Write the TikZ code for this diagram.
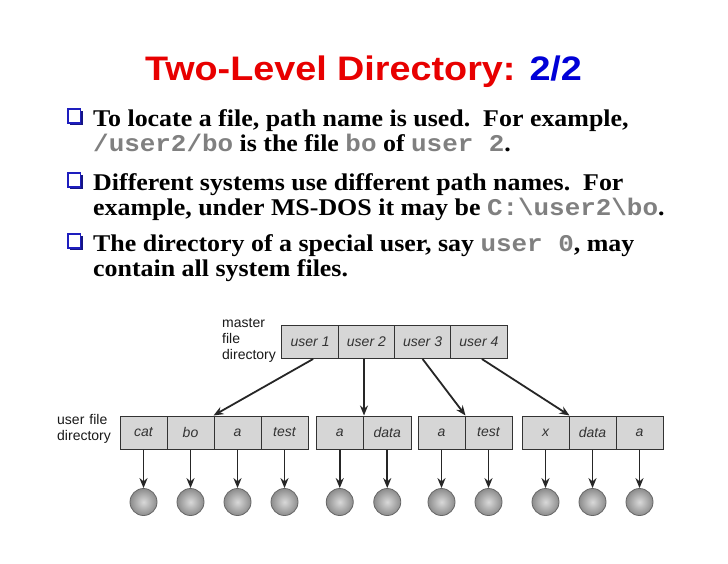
\documentclass[tikz,border=0pt]{standalone}
\usepackage{fontspec}
\setmainfont{Liberation Serif}
\setsansfont{Liberation Sans}
\setmonofont{Liberation Mono}
\newfontfamily\titlefont[FakeStretch=1.11]{Liberation Sans}
\newfontfamily\bodyfont[FakeStretch=1.08]{Liberation Serif}
\newfontfamily\codefont[FakeStretch=1.08]{Liberation Mono}
\usetikzlibrary{arrows.meta}
\definecolor{titlered}{RGB}{232,0,0}
\definecolor{titleblue}{RGB}{0,0,215}
\definecolor{codegray}{RGB}{128,128,128}
\definecolor{boxfill}{RGB}{214,214,214}
\definecolor{bulletblue}{RGB}{30,30,190}
\newcommand{\cd}[1]{{\codefont\bfseries\color{codegray}#1}}
\tikzset{
  dirbox/.style={draw=black!80, fill=boxfill, line width=1pt, minimum height=33pt, inner sep=0pt,
    font=\sffamily\itshape\fontsize{14}{14}\selectfont, text=black!80},
  filedot/.style={circle, minimum size=27pt, inner sep=0pt, draw=black!60, line width=0.8pt,
    shading=radial, inner color=black!15, outer color=black!45},
  link/.style={line width=1.8pt, draw=black!85, -{Stealth[length=10pt,width=8pt]}},
  txtline/.style={anchor=base west, inner sep=0pt, font=\bodyfont\bfseries\fontsize{24}{24}\selectfont},
  dirlabel/.style={anchor=north west, align=left, inner sep=0pt, font=\sffamily\fontsize{14}{16}\selectfont, text=black!90}
}
\begin{document}
\begin{tikzpicture}[x=1pt,y=-1pt]
\useasboundingbox[fill=white] (0,0) rectangle (728,563);
% title
\node[anchor=base, inner sep=0pt, font=\titlefont\bfseries\fontsize{34}{34}\selectfont] (title) at (363.5,80)
  {\color{titlered}Two-Level Directory: \color{titleblue}2/2};
% bullets
\foreach \b in {126,190,251}{
  \fill[bulletblue!70!black] (70,\b-15) rectangle (82.5,\b-1);
  \draw[bulletblue, line width=1.2pt, fill=white] (68,\b-17) rectangle (80.5,\b-3);
}
\node[txtline] (b1a) at (93,126) {To locate a file, path name is used.\ \ For example,};
\node[txtline] (b1b) at (93,151) {\cd{/user2/bo} is the file \cd{bo} of \cd{user 2}.};
\node[txtline] (b2a) at (93,190) {Different systems use different path names.\ \ For};
\node[txtline] (b2b) at (93,215) {example, under MS-DOS it may be \cd{C:\textbackslash user2\textbackslash bo}.};
\node[txtline] (b3a) at (93,251) {The directory of a special user, say \cd{user 0}, may};
\node[txtline] (b3b) at (93,276) {contain all system files.};
% master file directory
\node[dirlabel] (mfd) at (222,318) {master\\file\\directory};
\foreach \i/\xc in {1/310.1,2/366.4,3/422.6,4/478.9}
  \node[dirbox, minimum width=56.25pt] (m\i) at (\xc,342) {user \i};
% user file directories
\node[dirlabel] (ufd) at (57,414) {user\hspace{5pt}file\\directory};
\foreach \i/\xc/\w/\t in {1/143.5/47/cat,2/190.5/47/bo,3/237.5/47/a,4/284.5/47/test,
    5/339.75/47.5/a,6/387.25/47.5/data,7/441.5/47/a,8/488.5/47/test,
    9/545.5/47/x,10/592.5/47/data,11/639.5/47/a}{
  \node[dirbox, minimum width=\w pt] (u\i) at (\xc,432.5) {\t};
  \node[filedot] (f\i) at (\xc,502) {};
  \draw[link] (u\i.south) -- (f\i.north);
}
% master entries point to user directories
\draw[link] ([xshift=3pt]m1.south) -- (u3.north west);
\draw[link] (m2.south -| u5.north east) -- (u5.north east);
\draw[link] (m3.south) -- (u7.north east);
\draw[link] ([xshift=3pt]m4.south) -- (u9.north east);
\end{tikzpicture}
\end{document}
